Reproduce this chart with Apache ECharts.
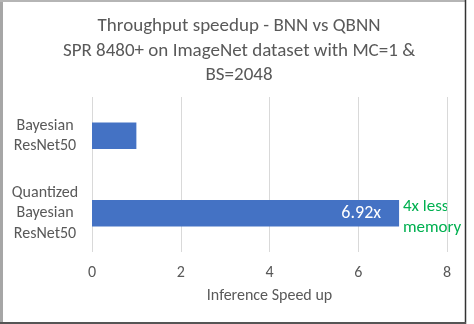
<!DOCTYPE html>
<html>
<head>
<meta charset="utf-8">
<script src="https://cdn.jsdelivr.net/npm/echarts@6/dist/echarts.min.js"></script>
<style>
  body{ margin:0; background:#fff; }
  #chart{ width:474px; height:324px; }
</style>
</head>
<body>
<div id="chart"></div>
<script>
  var categories = ['Bayesian\nResNet50', 'Quantized\nBayesian\nResNet50'];
  var speedup = [1, 6.92];
  var barLabels = ['', '6.92x'];
  var xTicks = [0, 2, 4, 6, 8];
  var note = '4x less\nmemory';

  var font = 'Calibri, Carlito, "Open Sans", "Noto Sans", sans-serif';
  var grey = '#595959';

  var chart = echarts.init(document.getElementById('chart'));
  var option = {
    animation: false,
    textStyle: { fontFamily: font },
    title: {
      text: 'Throughput speedup - BNN vs QBNN\nSPR 8480+ on ImageNet dataset with MC=1 &\nBS=2048',
      left: 234,
      textAlign: 'center',
      top: 9,
      textStyle: { fontSize: 19, fontWeight: 'normal', color: grey, lineHeight: 24.5, fontFamily: font }
    },
    grid: { left: 92, right: 27, top: 97, bottom: 72, containLabel: false },
    xAxis: {
      type: 'value',
      min: xTicks[0],
      max: xTicks[xTicks.length - 1],
      interval: 2,
      name: 'Inference Speed up',
      nameLocation: 'middle',
      nameGap: 36,
      nameTextStyle: { fontSize: 16, color: grey },
      axisLine: { show: false },
      axisTick: { show: false },
      axisLabel: { fontSize: 16, color: grey, margin: 13 },
      splitLine: { lineStyle: { color: '#d9d9d9', width: 1 } }
    },
    yAxis: {
      type: 'category',
      inverse: true,
      data: categories,
      axisLine: { show: false },
      axisTick: { show: false },
      axisLabel: { fontSize: 16, color: grey, align: 'center', margin: 47, lineHeight: 20.5 }
    },
    series: [{
      type: 'bar',
      data: speedup,
      barWidth: '34%',
      itemStyle: { color: '#4472c4' },
      label: {
        show: true,
        position: 'insideRight',
        distance: 18,
        color: '#fff',
        fontSize: 18,
        formatter: function (p) { return barLabels[p.dataIndex]; }
      }
    }],
    graphic: [
      { type: 'text', left: 403, top: 196, style: { text: note, fill: '#00b050', font: '17px ' + font, lineHeight: 21 } },
      { type: 'line', shape: { x1: 1.5, y1: 0, x2: 1.5, y2: 324 }, style: { stroke: '#a6a6a6', lineWidth: 3 } },
      { type: 'line', shape: { x1: 0, y1: 1, x2: 466, y2: 1 }, style: { stroke: '#b5b5b5', lineWidth: 2 } },
      { type: 'line', shape: { x1: 465.5, y1: 0, x2: 465.5, y2: 324 }, style: { stroke: '#333', lineWidth: 1.5 } },
      { type: 'line', shape: { x1: 0, y1: 323, x2: 466, y2: 323 }, style: { stroke: '#555', lineWidth: 2 } }
    ]
  };
  chart.setOption(option);
</script>
</body>
</html>
